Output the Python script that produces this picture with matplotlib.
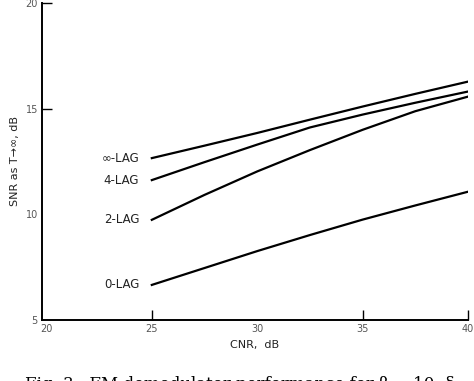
import matplotlib
matplotlib.use('Agg')
import matplotlib.pyplot as plt

# CNR (dB) sample points
cnr = [25, 27.5, 30, 32.5, 35, 37.5, 40]

snr_inf_lag = [12.66, 13.25, 13.85, 14.48, 15.10, 15.70, 16.28]
snr_4_lag = [11.62, 12.47, 13.30, 14.11, 14.72, 15.28, 15.81]
snr_2_lag = [9.74, 10.92, 12.03, 13.04, 14.00, 14.88, 15.57]
snr_0_lag = [6.66, 7.46, 8.26, 9.02, 9.75, 10.42, 11.07]

curve_labels = ['\u221e-LAG', '4-LAG', '2-LAG', '0-LAG']
x_ticks = [20, 25, 30, 35, 40]
y_ticks = [5, 10, 15, 20]

fig = plt.figure(figsize=(4.74, 3.81), dpi=100)
ax = fig.add_axes([42 / 474, 1 - 320 / 381, 426 / 474, 317 / 381])

series = [snr_inf_lag, snr_4_lag, snr_2_lag, snr_0_lag]
for values, label in zip(series, curve_labels):
    ax.plot(cnr, values, color='black', linewidth=1.6)
    ax.text(cnr[0] - 0.6, values[0], label, ha='right', va='center',
            fontsize=8.5, color='#222222')

ax.set_xlim(19.79, 40.0)
ax.set_ylim(5, 20)

ax.spines['top'].set_visible(False)
ax.spines['right'].set_visible(False)
ax.spines['left'].set_linewidth(1.4)
ax.spines['bottom'].set_linewidth(1.4)

ax.set_xticks(x_ticks)
ax.set_yticks(y_ticks)
ax.tick_params(direction='in', length=7, width=1.0, labelsize=7,
               labelcolor='#555555', pad=3)

# the scan only shows tick marks at some positions
for tick, val in zip(ax.xaxis.get_major_ticks(), x_ticks):
    if val in (20, 30):
        tick.tick1line.set_visible(False)
for tick, val in zip(ax.yaxis.get_major_ticks(), y_ticks):
    if val in (5, 10):
        tick.tick1line.set_visible(False)

ax.set_xlabel('CNR,  dB', fontsize=8, color='#222222', labelpad=4)
ax.set_ylabel('SNR as T\u2192\u221e, dB', fontsize=8, color='#222222',
              labelpad=4)

fig.text(25 / 474, 1 - 376 / 381,
         'Fig. 3.  FM demodulator performance for \u03b2 = 10, \u03b4 = 5.',
         ha='left', va='top', fontsize=12, family='DejaVu Serif')

fig.savefig('out.png', dpi=100)
